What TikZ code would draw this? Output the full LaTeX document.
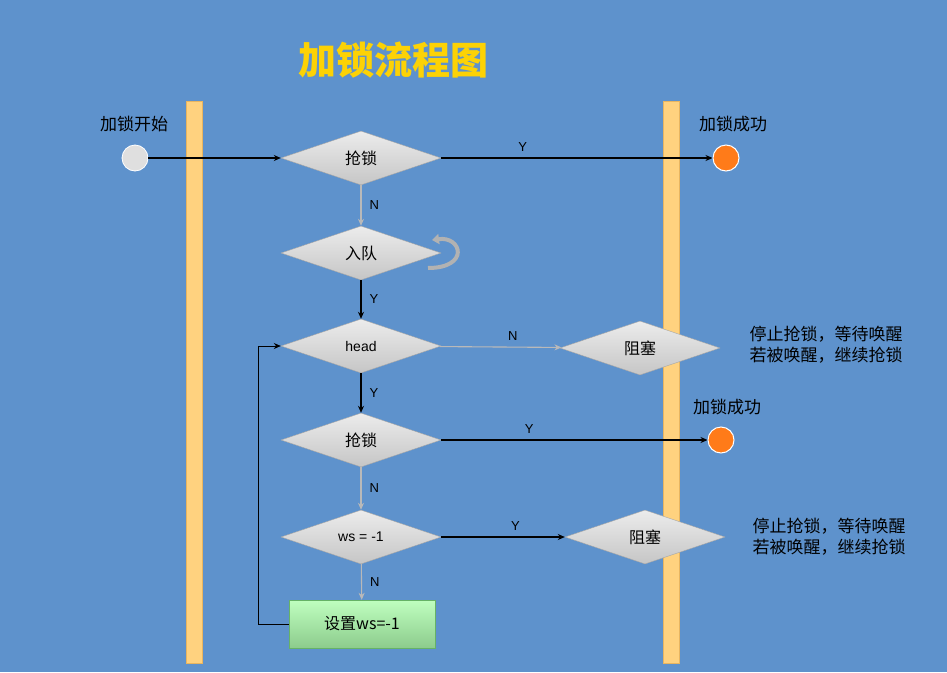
\documentclass[tikz,border=0pt]{standalone}
\usepackage{fontspec}
\setmainfont{Liberation Sans}
\newfontfamily\cjk{Noto Sans CJK SC}
\usetikzlibrary{shapes.geometric,arrows.meta}
\definecolor{bg}{HTML}{5E92CC}
\definecolor{lane}{HTML}{FFD27F}
\definecolor{lanee}{HTML}{E8B560}
\tikzset{
 dia/.style={diamond,aspect=2.9,minimum width=160pt,minimum height=54pt,inner sep=0pt,draw=gray!70,top color=gray!15,bottom color=gray!45,font=\cjk\fontsize{16}{19}\selectfont},
 lbl/.style={font=\cjk\fontsize{17}{21}\selectfont,inner sep=0pt},
 yn/.style={font=\fontsize{13}{15}\selectfont,inner sep=0pt,text=black},
 blk/.style={-{Stealth[length=7pt,width=6pt]},line width=1.1pt,black},
 gry/.style={-{Stealth[length=7pt,width=6pt]},line width=1.1pt,gray!55},
 endc/.style={circle,minimum size=26pt,inner sep=0pt,fill=orange!85!red!90,draw=white,line width=1pt},
}
\begin{document}
\begin{tikzpicture}[x=1pt,y=-1pt]
\fill[bg] (0,0) rectangle (947,672);
\fill[lane,draw=lanee] (186,101) rectangle (202,663);
\fill[lane,draw=lanee] (663,101) rectangle (679,663);
\node[font=\cjk\bfseries\fontsize{38}{42}\selectfont,text=yellow!70!orange,inner sep=0pt] (title) at (393,60) {加锁流程图};
\node[circle,minimum size=26pt,inner sep=0pt,fill=gray!25,draw=white,line width=0.8pt] (start) at (135,158) {};
\node[lbl] (ls) at (134,124) {加锁开始};
\node[dia] (d1) at (361,158) {抢锁};
\node[endc] (e1) at (726,158) {};
\node[lbl] (le1) at (733,124) {加锁成功};
\node[dia] (d2) at (361,253) {入队};
\node[dia,font=\fontsize{14}{16}\selectfont] (d3) at (361,346) {head};
\node[dia] (b1) at (640,348) {阻塞};
\node[dia] (d4) at (361,440) {抢锁};
\node[endc] (e2) at (721,440) {};
\node[lbl] (le2) at (727,407) {加锁成功};
\node[dia,font=\fontsize{14}{16}\selectfont] (d5) at (361,537) {ws = -1};
\node[dia] (b2) at (645,537) {阻塞};
\node[draw=green!50!black!60,top color=green!25!white,bottom color=green!55!black!45,minimum width=146pt,minimum height=48pt,inner sep=0pt,font=\cjk\fontsize{16}{19}\selectfont] (r) at (362,624) {设置ws=-1};
\node[lbl,align=left] (t1) at (826,345) {停止抢锁，等待唤醒\\若被唤醒，继续抢锁};
\node[lbl,align=left] (t2) at (829,537) {停止抢锁，等待唤醒\\若被唤醒，继续抢锁};
\draw[blk] (start) -- (d1);
\draw[blk] (d1) -- (e1) node[yn,pos=0.3,above=6pt] {Y};
\draw[gry] (d1) -- (d2) node[yn,midway,right=8pt] {N};
\draw[blk] (d2) -- (d3) node[yn,midway,right=8pt] {Y};
\draw[gry] (d3) -- (b1) node[yn,pos=0.6,above=6pt] {N};
\draw[blk] (d3) -- (d4) node[yn,midway,right=8pt] {Y};
\draw[blk] (d4) -- (e2) node[yn,pos=0.33,above=6pt] {Y};
\draw[gry] (d4) -- (d5) node[yn,midway,right=8pt] {N};
\draw[blk] (d5) -- (b2) node[yn,pos=0.6,above=6pt] {Y};
\draw[gry] (d5) -- (r) node[yn,midway,right=8pt] {N};
\coordinate (c1) at (258,624);
\coordinate (c2) at (258,346);
\draw[blk,line width=0.9pt] (r.west) -- (c1) -- (c2) -- (d3.west);
\coordinate (la) at (428,268);
\coordinate (lb) at (432,240);
\draw[gray!60,line width=4pt,-{Triangle[length=7pt,width=10pt]}] (la) .. controls (470,268) and (462,236) .. (lb);
\end{tikzpicture}
\end{document}
